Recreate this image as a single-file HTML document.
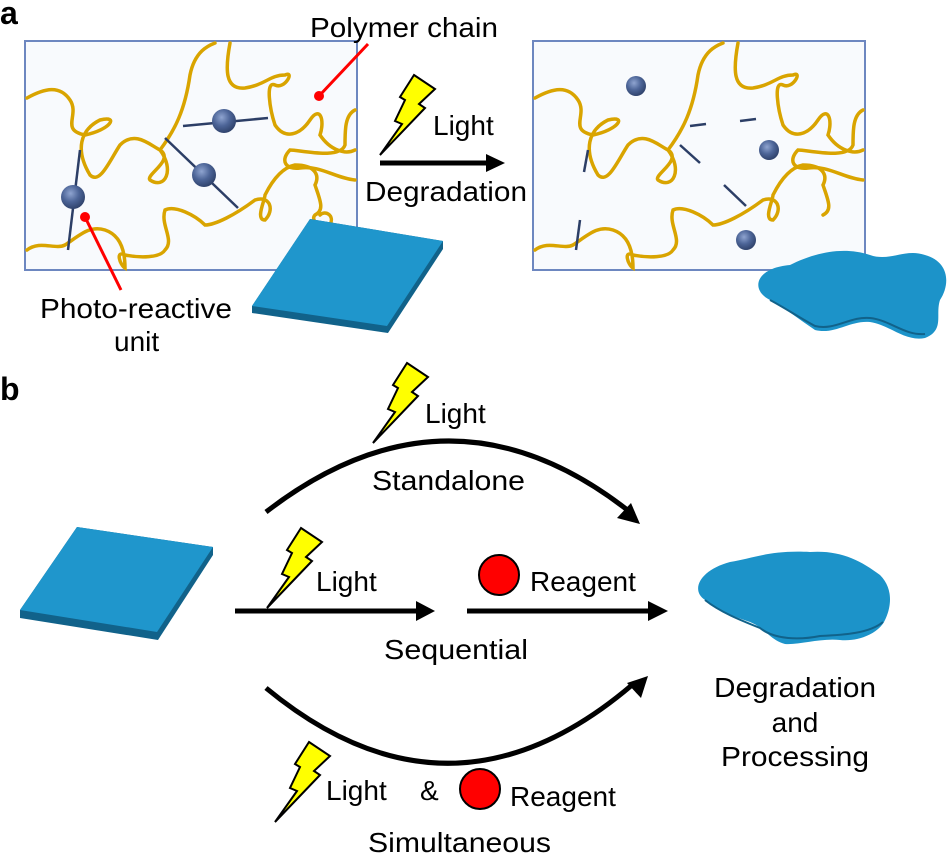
<!DOCTYPE html>
<html><head><meta charset="utf-8"><style>
html,body{margin:0;padding:0;background:#fff;}
svg{display:block;font-family:"Liberation Sans",Arial,sans-serif;}
</style></head><body>
<svg width="950" height="854" viewBox="0 0 950 854" xmlns="http://www.w3.org/2000/svg">
<defs>
<g id="bolt"><polygon points="34,-80 55,-66 39,-51 45,-47 0,0 22,-31 15,-34 25,-55 20,-58" fill="#ffff00" stroke="#000" stroke-width="2" stroke-linejoin="miter"/></g>
<radialGradient id="ball" cx="0.4" cy="0.35" r="0.7"><stop offset="0" stop-color="#8fa4d0"/><stop offset="0.5" stop-color="#4d6598"/><stop offset="1" stop-color="#2c3e66"/></radialGradient>
</defs>
<g font-size="28">
<!-- Panel a -->
<text x="0" y="24" font-size="32" font-weight="bold">a</text>
<rect x="25" y="41" width="332" height="229" fill="#f8fafd" stroke="#6d87c0" stroke-width="2"/>
<g fill="none" stroke="#d9a400" stroke-width="3.5" stroke-linecap="round">
<path d="M27,98 C45,88 60,85 70,100 C80,115 60,130 85,135 C110,130 120,115 100,120 C80,130 75,150 90,175 C100,185 110,160 120,145 C135,130 150,145 160,150 C175,160 145,175 150,180 C165,190 175,170 160,150 C175,130 185,110 190,75 C195,50 210,45 215,43"/>
<path d="M230,43 C225,70 225,90 245,88 C265,85 270,75 285,75 C295,70 285,90 275,85 C265,80 270,110 275,125 C285,140 300,135 310,120 C320,105 325,120 320,135 C330,150 345,155 355,150"/>
<path d="M355,110 C345,115 345,130 345,145 C340,160 300,150 290,150 C280,160 285,170 300,168 C320,165 335,178 355,180"/>
<path d="M27,250 C40,240 55,250 65,245 C80,235 90,225 105,230 C120,235 125,250 125,268 C120,265 115,250 125,255 C140,258 160,258 165,250 C175,240 160,225 165,210 C175,205 195,215 205,225 C215,225 235,215 255,200 C270,195 275,210 265,220 C255,220 265,200 265,195 C270,185 280,168 295,165 C315,165 320,175 315,185 C320,200 325,210 315,215 C310,220 320,230 330,225 C335,215 325,210 320,215"/>
</g>
<g stroke="#2c3e66" stroke-width="2.5" fill="none">
<line x1="80" y1="150" x2="68" y2="250"/>
<line x1="183" y1="126" x2="268" y2="118"/>
<line x1="165" y1="138" x2="238" y2="208"/>
</g>
<circle cx="73" cy="197" r="12" fill="url(#ball)"/>
<circle cx="224" cy="121" r="12" fill="url(#ball)"/>
<circle cx="204" cy="175" r="12" fill="url(#ball)"/>
<line x1="368" y1="44" x2="319" y2="96" stroke="#f00" stroke-width="3"/><circle cx="319" cy="96" r="5" fill="#f00"/>
<line x1="121" y1="290" x2="85" y2="217" stroke="#f00" stroke-width="3"/><circle cx="85" cy="217" r="5" fill="#f00"/>
<polygon points="310,219 443,241 443,249 388,333 252,313 252,306" fill="#11628a"/>
<polygon points="310,219 443,241 387,326 252,306" fill="#1f96cc"/>
<text x="310" y="37" textLength="188" lengthAdjust="spacingAndGlyphs">Polymer chain</text>
<text x="40" y="318" textLength="192" lengthAdjust="spacingAndGlyphs">Photo-reactive</text>
<text x="114" y="351">unit</text>
<use href="#bolt" transform="translate(380,155)"/>
<text x="433" y="135">Light</text>
<line x1="380" y1="163" x2="488" y2="163" stroke="#000" stroke-width="5"/>
<polygon points="486,154 505,163 486,172" fill="#000"/>
<text x="365" y="201" textLength="162" lengthAdjust="spacingAndGlyphs">Degradation</text>
<!-- right box -->
<rect x="533" y="41" width="332" height="229" fill="#f8fafd" stroke="#6d87c0" stroke-width="2"/>
<g fill="none" stroke="#d9a400" stroke-width="3.5" stroke-linecap="round">
<path d="M535,98 C553,88 568,85 578,100 C588,115 568,130 593,135 C618,130 628,115 608,120 C588,130 583,150 598,175 C608,185 618,160 628,145 C643,130 658,145 668,150 C683,160 653,175 658,180 C673,190 683,170 668,150 C683,130 693,110 698,75 C703,50 718,45 723,43"/>
<path d="M738,43 C733,70 733,90 753,88 C773,85 778,75 793,75 C803,70 793,90 783,85 C773,80 778,110 783,125 C793,140 808,135 818,120 C828,105 833,120 828,135 C838,150 853,155 863,150"/>
<path d="M863,110 C853,115 853,130 853,145 C848,160 808,150 798,150 C788,160 793,170 808,168 C828,165 843,178 863,180"/>
<path d="M535,250 C548,240 563,250 573,245 C588,235 598,225 613,230 C628,235 633,250 633,268 C628,265 623,250 633,255 C648,258 668,258 673,250 C683,240 668,225 673,210 C683,205 703,215 713,225 C723,225 743,215 763,200 C778,195 783,210 773,220 C763,220 773,200 773,195 C778,185 788,168 803,165 C823,165 828,175 823,185 C828,200 833,210 823,215"/>
</g>
<g stroke="#2c3e66" stroke-width="2.5">
<line x1="588" y1="150" x2="584" y2="172"/><line x1="580" y1="220" x2="576" y2="250"/>
<line x1="690" y1="126" x2="706" y2="124"/><line x1="740" y1="121" x2="756" y2="119"/>
<line x1="680" y1="145" x2="700" y2="163"/><line x1="724" y1="185" x2="746" y2="206"/>
</g>
<circle cx="636" cy="86" r="10" fill="url(#ball)"/>
<circle cx="769" cy="150" r="10" fill="url(#ball)"/>
<circle cx="746" cy="240" r="10" fill="url(#ball)"/>
<path d="M770,300 C750,290 755,268 790,265 C810,255 840,245 870,255 C890,262 905,248 925,255 C950,262 950,285 940,300 C935,315 945,330 925,338 C905,342 890,325 870,322 C850,320 835,335 815,330 C800,320 785,308 770,300 Z" fill="#1c93c9"/>
<path d="M770,300 C785,308 800,318 815,326 C835,331 850,316 870,318 C890,320 905,336 925,334" fill="none" stroke="#11628a" stroke-width="2"/>
<!-- Panel b -->
<text x="0" y="400" font-size="32" font-weight="bold">b</text>
<polygon points="77,527 213,547 213,555 158,640 20,618 20,610" fill="#11628a"/>
<polygon points="77,527 213,547 157,632 20,610" fill="#1f96cc"/>
<path d="M266,512 Q450,370 630,512" fill="none" stroke="#000" stroke-width="5"/>
<polygon points="640,524 617,518 631,503" fill="#000"/>
<use href="#bolt" transform="translate(373,443)"/>
<text x="425" y="423">Light</text>
<text x="372" y="490" textLength="153" lengthAdjust="spacingAndGlyphs">Standalone</text>
<line x1="235" y1="611" x2="420" y2="611" stroke="#000" stroke-width="5"/>
<polygon points="416,601 435,611 416,621" fill="#000"/>
<line x1="467" y1="611" x2="652" y2="611" stroke="#000" stroke-width="5"/>
<polygon points="648,601 668,611 648,621" fill="#000"/>
<use href="#bolt" transform="translate(267,608)"/>
<text x="316" y="591">Light</text>
<circle cx="499" cy="575" r="20" fill="#f00" stroke="#000" stroke-width="2"/>
<text x="530" y="591">Reagent</text>
<text x="384" y="659" textLength="144" lengthAdjust="spacingAndGlyphs">Sequential</text>
<path d="M266,688 Q450,840 632,685" fill="none" stroke="#000" stroke-width="5"/>
<polygon points="648,676 641,698 627,683" fill="#000"/>
<use href="#bolt" transform="translate(275,822)"/>
<text x="326" y="800">Light</text>
<text x="420" y="800">&amp;</text>
<circle cx="480" cy="789" r="20" fill="#f00" stroke="#000" stroke-width="2"/>
<text x="510" y="806">Reagent</text>
<text x="368" y="852" textLength="183" lengthAdjust="spacingAndGlyphs">Simultaneous</text>
<path d="M705,600 C690,590 700,570 730,562 C755,558 770,550 810,552 C840,550 860,560 880,575 C895,590 890,610 885,620 C880,632 860,642 840,640 C820,638 800,645 785,644 C770,640 765,628 750,622 C730,615 715,610 705,600 Z" fill="#1c93c9"/>
<path d="M705,600 C720,612 740,620 760,628 C775,640 800,640 820,636 C845,635 870,633 883,622" fill="none" stroke="#11628a" stroke-width="2"/>
<text x="795" y="697" text-anchor="middle" textLength="162" lengthAdjust="spacingAndGlyphs">Degradation</text>
<text x="795" y="732" text-anchor="middle">and</text>
<text x="795" y="766" text-anchor="middle" textLength="148" lengthAdjust="spacingAndGlyphs">Processing</text>
</g>
</svg>
</body></html>
